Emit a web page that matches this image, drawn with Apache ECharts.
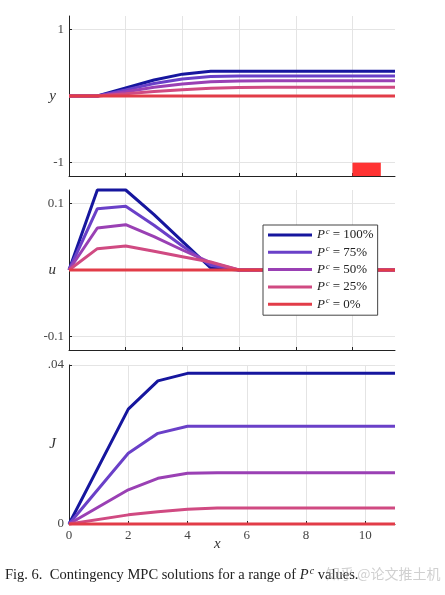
<!DOCTYPE html>
<html>
<head>
<meta charset="utf-8">
<script src="https://cdn.jsdelivr.net/npm/echarts@6/dist/echarts.min.js"></script>
<style>
html,body{margin:0;padding:0;background:#fff;}
#c{width:445px;height:595px;}
</style>
</head>
<body>
<div id="c"></div>
<script>
// ---- data ----
const legendPercents = ['100%', '75%', '50%', '25%', '0%'];
const seriesNames = legendPercents.map(p => 'Pc = ' + p);

// top panel (y) and middle panel (u): time steps
const tSteps = [0, 1, 2, 3, 4, 5, 6, 7, 8, 9, 10, 11, 11.5];
const yP100 = [0, 0, 0.12, 0.24, 0.328, 0.372, 0.373, 0.373, 0.373, 0.373, 0.373, 0.373, 0.373];
const yP75  = [0, 0, 0.092, 0.188, 0.255, 0.292, 0.300, 0.300, 0.300, 0.300, 0.300, 0.300, 0.300];
const yP50  = [0, 0, 0.063, 0.131, 0.181, 0.212, 0.226, 0.228, 0.228, 0.228, 0.228, 0.228, 0.228];
const yP25  = [0, 0, 0.032, 0.068, 0.095, 0.115, 0.128, 0.130, 0.130, 0.130, 0.130, 0.130, 0.130];
const yP0   = [0, 0, 0, 0, 0, 0, 0, 0, 0, 0, 0, 0, 0];

const uP100 = [0, 0.12, 0.12, 0.083, 0.043, 0.003, 0, 0, 0, 0, 0, 0, 0];
const uP75  = [0, 0.092, 0.0955, 0.067, 0.036, 0.007, 0, 0, 0, 0, 0, 0, 0];
const uP50  = [0, 0.063, 0.068, 0.050, 0.030, 0.011, 0, 0, 0, 0, 0, 0, 0];
const uP25  = [0, 0.032, 0.036, 0.028, 0.020, 0.012, 0, 0, 0, 0, 0, 0, 0];
const uP0   = [0, 0, 0, 0, 0, 0, 0, 0, 0, 0, 0, 0, 0];

// bottom panel (J vs x)
const xJ = [0, 2, 3, 4, 5, 6, 7, 8, 9, 10, 11];
const jP100 = [0, 0.0289, 0.0360, 0.0379, 0.0379, 0.0379, 0.0379, 0.0379, 0.0379, 0.0379, 0.0379];
const jP75  = [0, 0.0178, 0.0228, 0.0246, 0.0246, 0.0246, 0.0246, 0.0246, 0.0246, 0.0246, 0.0246];
const jP50  = [0, 0.0086, 0.0115, 0.01275, 0.0129, 0.0129, 0.0129, 0.0129, 0.0129, 0.0129, 0.0129];
const jP25  = [0, 0.0023, 0.0031, 0.0037, 0.0040, 0.0040, 0.0040, 0.0040, 0.0040, 0.0040, 0.0040];
const jP0   = [0, 0, 0, 0, 0, 0, 0, 0, 0, 0, 0];

// obstacle region in the y panel
const obstacleX = [10, 11];
const obstacleY = [-1.2, -1];

// tick values
const yTicks = [-1, 1];
const uTicks = [-0.1, 0.1];
const jTicks = [0, 0.04];
const xTicks = [0, 2, 4, 6, 8, 10];

// ---- style ----
const colors = ['#16169e', '#6a40c8', '#9a40b4', '#d04a82', '#e23c48'];
const SERIF = 'Liberation Serif';
const axisLineStyle = { color: '#222', width: 1 };
const gridStyle = { color: '#e4e4e4', width: 1 };

function pairs(xs, ys) { return xs.map((x, i) => [x, ys[i]]); }

const panels = [
  { xs: tSteps, sets: [yP100, yP75, yP50, yP25, yP0] },
  { xs: tSteps, sets: [uP100, uP75, uP50, uP25, uP0] },
  { xs: xJ, sets: [jP100, jP75, jP50, jP25, jP0] }
];

const series = [];
panels.forEach((p, gi) => {
  p.sets.forEach((vals, si) => {
    series.push({
      type: 'line',
      name: seriesNames[si],
      xAxisIndex: gi,
      yAxisIndex: gi,
      data: pairs(p.xs, vals),
      symbol: 'none',
      clip: false,
      lineStyle: { width: 3, color: colors[si] },
      itemStyle: { color: colors[si] },
      emphasis: { disabled: true },
      animation: false
    });
  });
});
// red obstacle block
series.push({
  type: 'line',
  xAxisIndex: 0, yAxisIndex: 0,
  data: [],
  symbol: 'none',
  markArea: {
    silent: true,
    itemStyle: { color: '#ff3333', opacity: 1 },
    data: [[{ xAxis: obstacleX[0], yAxis: obstacleY[0] }, { xAxis: obstacleX[1], yAxis: obstacleY[1] }]]
  },
  animation: false
});

function xAxisDef(gi, max, showLabels) {
  return {
    type: 'value', gridIndex: gi, min: 0, max: max,
    axisLine: { show: true, onZero: false, lineStyle: axisLineStyle },
    axisTick: { show: true, inside: true, length: 3, customValues: xTicks, lineStyle: axisLineStyle },
    axisLabel: { show: showLabels, customValues: xTicks, margin: 5, fontFamily: SERIF, fontSize: 13, color: '#444' },
    splitLine: { show: true, lineStyle: gridStyle }
  };
}
function yAxisDef(gi, min, max, ticks, name, fmt) {
  return {
    type: 'value', gridIndex: gi, min: min, max: max,
    name: name, nameLocation: 'middle', nameRotate: 0, nameGap: 13,
    nameMoveOverlap: false,
    nameTextStyle: { fontFamily: SERIF, fontStyle: 'italic', fontSize: 15, color: '#333' },
    axisLine: { show: true, onZero: false, lineStyle: axisLineStyle },
    axisTick: { show: true, inside: true, length: 3, customValues: ticks, lineStyle: axisLineStyle },
    axisLabel: { show: true, customValues: ticks, margin: 5, fontFamily: SERIF, fontSize: 13, color: '#444', formatter: fmt },
    splitLine: { show: true, lineStyle: gridStyle }
  };
}

const option = {
  animation: false,
  backgroundColor: '#fff',
  grid: [
    { left: 69, right: 50, top: 16, height: 160 },
    { left: 69, right: 50, top: 190, height: 160 },
    { left: 69, right: 50, top: 365, height: 159 }
  ],
  xAxis: [xAxisDef(0, 11.5, false), xAxisDef(1, 11.5, false), xAxisDef(2, 11, true)],
  yAxis: [
    yAxisDef(0, -1.2, 1.2, yTicks, 'y', v => String(v)),
    yAxisDef(1, -0.12, 0.12, uTicks, 'u', v => String(v)),
    yAxisDef(2, 0, 0.04, jTicks, 'J', v => (v === 0 ? '0' : '.04'))
  ],
  legend: {
    data: seriesNames,
    orient: 'vertical',
    left: 263, top: 225,
    selectedMode: false,
    icon: 'rect',
    itemWidth: 44, itemHeight: 3,
    itemGap: 3.3,
    padding: [3, 4, 4, 5],
    backgroundColor: '#fff',
    borderColor: '#444', borderWidth: 1,
    formatter: n => '{p|P}{s|c}{t| = ' + n.slice(5) + '}',
    textStyle: {
      fontFamily: SERIF, fontSize: 13, color: '#222', lineHeight: 14,
      rich: {
        p: { fontFamily: SERIF, fontStyle: 'italic', fontSize: 13, lineHeight: 14, color: '#222' },
        s: { fontFamily: SERIF, fontStyle: 'italic', fontSize: 8, lineHeight: 8, verticalAlign: 'top', color: '#222', padding: [0, 0, 0, 1] },
        t: { fontFamily: SERIF, fontSize: 13, lineHeight: 14, color: '#222' }
      }
    }
  },
  graphic: [
    {
      type: 'text', left: 214, top: 537,
      style: { text: 'x', font: 'italic 15px "Liberation Serif"', fill: '#333' }
    },
    {
      type: 'text', left: 5, top: 566,
      style: {
        text: '{n|Fig. 6.  Contingency MPC solutions for a range of }{p|P}{s|c}{n| values.}',
        rich: {
          n: { fontFamily: SERIF, fontSize: 14.5, lineHeight: 18, fill: '#222', color: '#222' },
          p: { fontFamily: SERIF, fontStyle: 'italic', fontSize: 14.5, lineHeight: 18, fill: '#222', color: '#222' },
          s: { fontFamily: SERIF, fontStyle: 'italic', fontSize: 10, lineHeight: 11, verticalAlign: 'top', fill: '#222', color: '#222', padding: [0, 0, 0, 1] }
        }
      }
    },
    {
      type: 'text', left: 326, top: 567,
      style: { text: '知乎 @论文推土机', font: '14px "Noto Sans CJK SC"', fill: 'rgba(170,170,170,0.55)' }
    }
  ],
  series: series
};

const chart = echarts.init(document.getElementById('c'), null, { renderer: 'canvas' });
chart.setOption(option);
</script>
</body>
</html>
